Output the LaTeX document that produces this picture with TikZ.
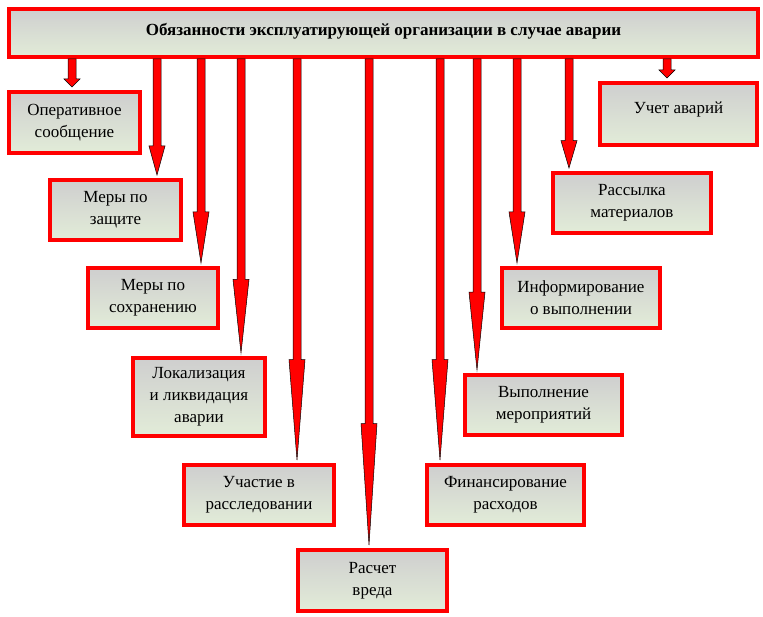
\documentclass[tikz,border=0pt]{standalone}
\usepackage{fontspec}
\setmainfont{Liberation Serif}
\begin{document}
\begin{tikzpicture}[x=1pt,y=-1pt,
  bx/.style={draw=red,line width=4pt,top color=gray!38,bottom color={rgb,255:red,226;green,236;blue,216},
    font=\fontsize{17}{22}\selectfont,align=center,inner sep=0pt}]
\useasboundingbox (0,0) rectangle (763,617);
\newcommand\bxx[6]{\node[bx,minimum width={#4-#2-4pt},minimum height={#5-#3-4pt},anchor=north west] (#1) at (#2+2,#3+2) {#6};}
\newcommand\barr[3]{%
  \pgfmathsetmacro\hl{max(8,0.25*(#3-#2))}%
  \pgfmathsetmacro\hs{#3-\hl}%
  \draw[fill=red,draw=black,line width=0.5pt] (#1-4,#2) -- (#1-4,\hs) -- (#1-8,\hs) -- (#1,#3) -- (#1+8,\hs) -- (#1+4,\hs) -- (#1+4,#2) -- cycle;}
\bxx{top}{5}{5}{758}{57}{\raisebox{8pt}{\textbf{Обязанности эксплуатирующей организации в случае аварии}}}
\bxx{b1}{5}{88}{140}{153}{Оперативное\\сообщение}
\bxx{b2}{46}{176}{181}{240}{Меры по\\защите}
\bxx{b3}{84}{264}{218}{328}{Меры по\\сохранению}
\bxx{b4}{129}{354}{265}{436}{Локализация\\и ликвидация\\аварии}
\bxx{b5}{180}{461}{334}{525}{Участие в\\расследовании}
\bxx{b6}{294}{546}{447}{611}{Расчет\\вреда}
\bxx{b7}{423}{461}{584}{525}{Финансирование\\расходов}
\bxx{b8}{461}{371}{622}{435}{Выполнение\\мероприятий}
\bxx{b9}{498}{264}{660}{328}{Информирование\\о выполнении}
\bxx{b10}{549}{169}{711}{233}{Рассылка\\материалов}
\bxx{b11}{596}{79}{757}{145}{\raisebox{12pt}{Учет аварий}}
\barr{72}{59}{87}
\barr{157}{59}{175}
\barr{201}{59}{263}
\barr{241}{59}{353}
\barr{297}{59}{460}
\barr{369}{59}{545}
\barr{440}{59}{460}
\barr{477}{59}{370}
\barr{517}{59}{263}
\barr{569}{59}{168}
\barr{667}{59}{78}
\end{tikzpicture}
\end{document}
